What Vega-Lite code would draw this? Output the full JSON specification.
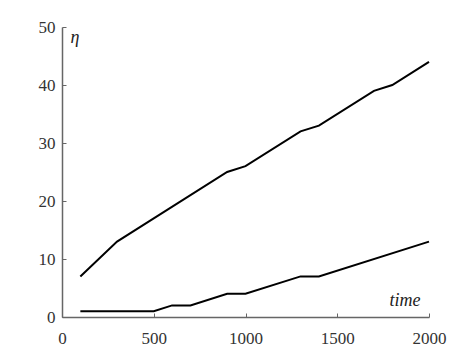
{
  "$schema": "https://vega.github.io/schema/vega-lite/v6.json",
  "autosize": "none",
  "width": 367,
  "height": 290,
  "padding": {"left": 62, "top": 27, "right": 45, "bottom": 41},
  "background": "white",
  "config": {"view": {"stroke": null}, "font": "Liberation Serif", "axis": {"labelFont": "Liberation Serif", "titleFont": "Liberation Serif"}},
  "data": {"values": [
    {"t": 100, "eta": 7, "s": "a"},
    {"t": 300, "eta": 13, "s": "a"},
    {"t": 900, "eta": 25, "s": "a"},
    {"t": 1000, "eta": 26, "s": "a"},
    {"t": 1300, "eta": 32, "s": "a"},
    {"t": 1400, "eta": 33, "s": "a"},
    {"t": 1700, "eta": 39, "s": "a"},
    {"t": 1800, "eta": 40, "s": "a"},
    {"t": 2000, "eta": 44, "s": "a"},
    {"t": 100, "eta": 1, "s": "b"},
    {"t": 500, "eta": 1, "s": "b"},
    {"t": 600, "eta": 2, "s": "b"},
    {"t": 700, "eta": 2, "s": "b"},
    {"t": 900, "eta": 4, "s": "b"},
    {"t": 1000, "eta": 4, "s": "b"},
    {"t": 1300, "eta": 7, "s": "b"},
    {"t": 1400, "eta": 7, "s": "b"},
    {"t": 2000, "eta": 13, "s": "b"}
  ]},
  "mark": {"type": "line", "color": "black", "strokeWidth": 2},
  "encoding": {
    "detail": {"field": "s"},
    "x": {
      "field": "t", "type": "quantitative",
      "scale": {"domain": [0, 2000], "nice": false},
      "axis": {
        "values": [0, 500, 1000, 1500, 2000], "format": "d",
        "labelFlush": false, "labelOverlap": false,
        "grid": false, "domainColor": "#666", "domainWidth": 1.5,
        "tickColor": "#666", "tickSize": -4, "labelPadding": 17,
        "labelFontSize": 17, "labelColor": "#333",
        "title": "time", "titleFontStyle": "italic",
        "titleFontWeight": "normal", "titleFontSize": 18, "titleColor": "#222",
        "titleX": 358, "titleY": -8, "titleAlign": "right", "titleBaseline": "bottom"
      }
    },
    "y": {
      "field": "eta", "type": "quantitative",
      "scale": {"domain": [0, 50], "nice": false},
      "axis": {
        "values": [0, 10, 20, 30, 40, 50],
        "labelFlush": false, "labelOverlap": false,
        "grid": false, "domainColor": "#666", "domainWidth": 1.5,
        "tickColor": "#666", "tickSize": -4, "labelPadding": 11,
        "labelFontSize": 17, "labelColor": "#333",
        "title": "η", "titleFontStyle": "italic",
        "titleFontWeight": "normal", "titleFontSize": 18, "titleColor": "#222",
        "titleAngle": 0, "titleX": 8, "titleY": 1, "titleAlign": "left", "titleBaseline": "top"
      }
    }
  }
}
